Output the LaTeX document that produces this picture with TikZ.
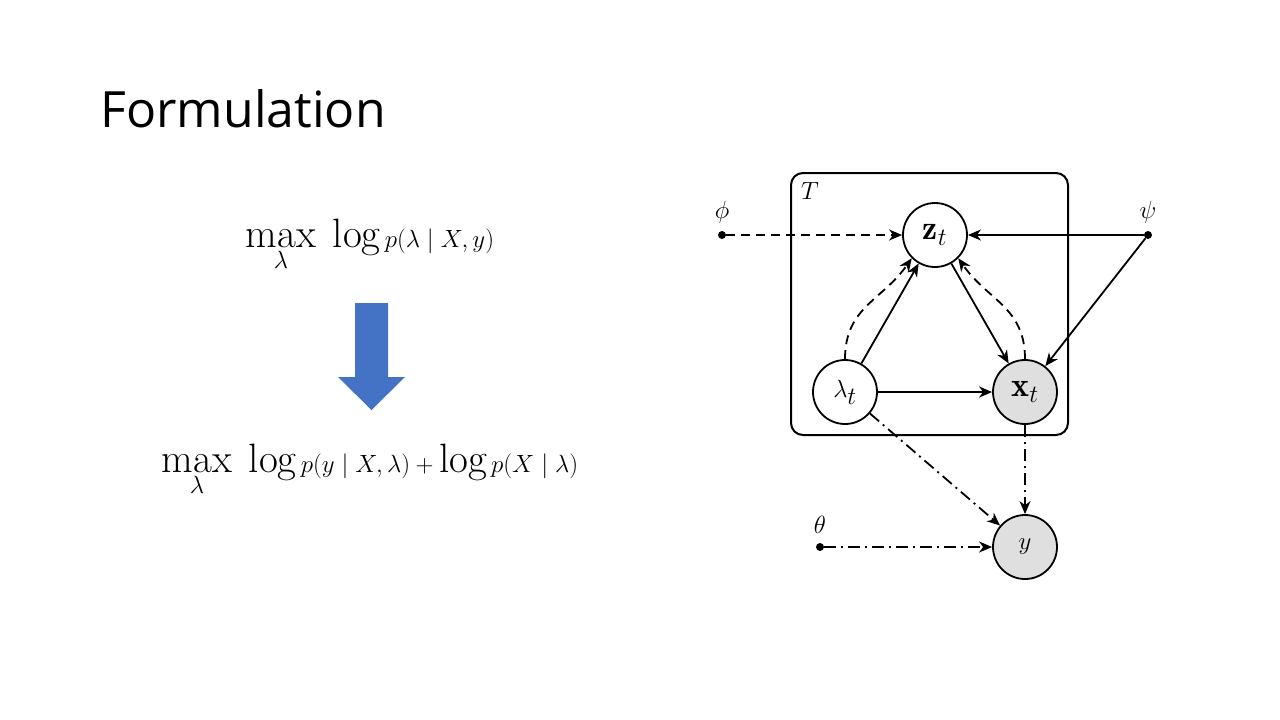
\documentclass[tikz,border=0pt]{standalone}
\usepackage{fontspec}
\usepackage{amsmath}
\setsansfont{Open Sans}
\usetikzlibrary{arrows.meta}
\begin{document}
\begin{tikzpicture}[x=1pt,y=-1pt,
  var/.style={circle,draw,line width=1.8pt,minimum size=64pt,inner sep=0pt,font=\fontsize{34}{40}\selectfont},
  obs/.style={var,fill=gray!25},
  dot/.style={circle,fill,inner sep=0pt,minimum size=8pt},
  edge/.style={line width=1.8pt,-{Stealth[length=13pt,width=11pt,inset=4pt]}},
  lbl/.style={font=\fontsize{29}{34}\selectfont}]
\useasboundingbox (0,0) rectangle (1280,720);
\node[anchor=base west,font=\sffamily\fontsize{50}{60}\selectfont] (title) at (97,127) {Formulation};
\node[font=\fontsize{41}{48}\selectfont] (eq1) at (370,245) {$\displaystyle\max_{\lambda}\ \log p(\lambda\mid X,y)$};
\node[font=\fontsize{41}{48}\selectfont] (eq2) at (370,470) {$\displaystyle\max_{\lambda}\ \log p(y\mid X,\lambda)+\log p(X\mid\lambda)$};
\fill[fill={rgb,255:red,68;green,114;blue,196}] (355,303) -- (388,303) -- (388,377) -- (405,377) -- (371.5,410) -- (338,377) -- (355,377) -- cycle;
\draw[line width=2pt,rounded corners=12pt] (791,173) rectangle (1068,435);
\node[lbl] (T) at (810,191) {$T$};
\node[var] (z) at (935,235) {$\mathbf{z}_t$};
\node[var] (l) at (845,392) {$\lambda_t$};
\node[obs] (x) at (1025,392) {$\mathbf{x}_t$};
\node[obs] (y) at (1025,547) {$y$};
\node[dot] (phi) at (722,235) {};
\node[dot] (psi) at (1148,235) {};
\node[dot] (th) at (820,547) {};
\node[lbl] (phil) at (722,212) {$\phi$};
\node[lbl] (psil) at (1148,212) {$\psi$};
\node[lbl] (thl) at (820,525) {$\theta$};
\draw[edge,dash pattern=on 9pt off 6pt] (phi) -- (z);
\draw[edge] (psi) -- (z);
\draw[edge] (psi) -- (x);
\draw[edge] (l) -- (z);
\draw[edge] (z) -- (x);
\draw[edge] (l) -- (x);
\draw[edge,dash pattern=on 9pt off 6pt] (l.north) to[out=90,in=235,looseness=1.1] (z.south west);
\draw[edge,dash pattern=on 9pt off 6pt] (x.north) to[out=90,in=305,looseness=1.1] (z.south east);
\draw[edge,dash pattern=on 12pt off 5pt on 2pt off 5pt] (l) -- (y);
\draw[edge,dash pattern=on 12pt off 5pt on 2pt off 5pt] (x) -- (y);
\draw[edge,dash pattern=on 12pt off 5pt on 2pt off 5pt] (th) -- (y);
\end{tikzpicture}
\end{document}
